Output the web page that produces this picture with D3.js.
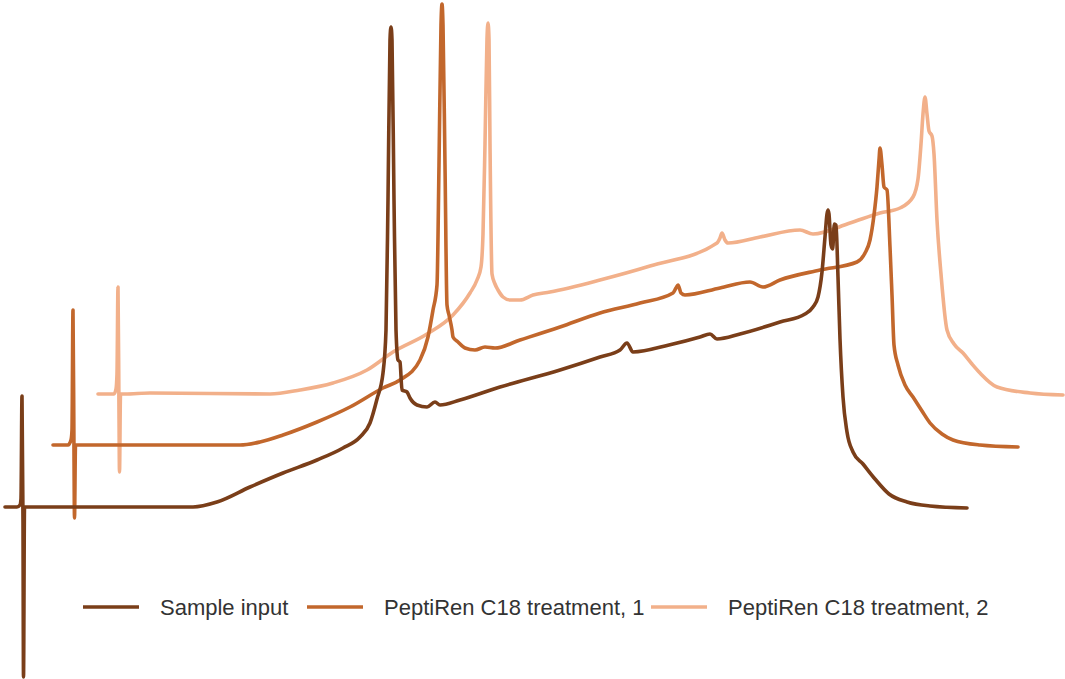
<!DOCTYPE html>
<html>
<head>
<meta charset="utf-8">
<script src="https://cdn.jsdelivr.net/npm/d3@7"></script>
<style>
  html, body { margin: 0; padding: 0; background: #ffffff; }
  svg { display: block; }
</style>
</head>
<body>
<svg id="chart" width="1065" height="679"></svg>
<script>
// ---------------- DATA ----------------
const seriesNames = ["Sample input", "PeptiRen C18 treatment, 1", "PeptiRen C18 treatment, 2"];

// retention time (min) and detector signal (mAU) for each trace
const sampleTime = [0,0.6,0.75,0.8,0.85,0.9,0.925,0.975,1.25,9.4,10.6,12.25,13.9,15.6,16.9,17.75,18.25,18.6,18.9,19.05,19.15,19.25,19.3,19.35,19.45,19.55,19.65,19.75,19.85,20.1,20.25,20.6,21.1,21.5,21.75,22.75,24.75,27.75,29.75,30.75,31.1,31.4,33.2,34.75,35.25,35.6,36.75,38.75,40.0,40.4,40.65,40.85,41.0,41.1,41.15,41.2,41.3,41.38,41.47,41.55,41.65,41.75,41.9,42.1,42.4,42.9,43.5,44.2,45.1,46.25,48.1];
const sampleSignal = [0,0,2,8,111,-15,-170,0,0,0,5,20,34,47,59,70,84,108,134,177,307,467,480,467,307,177,147,145,117,115,109,102,100,105,102,107,120,137,150,157,164,155,162,170,173,168,173,185,193,200,210,235,270,293,297,293,262,258,283,282,230,168,110,75,55,43,28,13,5,1,-1];

const t1Time = [-0.15,0.6,0.75,0.8,0.85,0.9,0.925,0.975,1.2,9.2,10.2,11.35,13.05,14.7,16.35,17.2,18.2,18.6,18.85,19.05,19.15,19.25,19.3,19.35,19.45,19.55,19.65,19.8,19.85,20.1,20.45,20.95,21.45,21.95,23.2,25.2,27.2,29.2,30.85,31.0,31.1,31.25,31.45,33.2,34.7,35.35,36.2,38.2,40.05,40.45,40.7,40.9,41.05,41.15,41.2,41.3,41.4,41.55,41.7,41.8,41.9,42.1,42.45,42.85,43.3,43.7,44.3,44.85,46.2,48.1];
const t1Signal = [0,0,5,15,135,-10,-73,0,0,0,3,10,23,38,57,65,85,108,135,160,280,420,441,420,280,140,130,115,108,103,97,95,98,97,105,118,132,142,152,157,160,152,150,157,163,158,165,175,183,192,205,230,258,285,297,280,258,255,198,150,100,80,60,48,34,22,11,5,0,-2];

const t2Time = [-0.2,0.6,0.7,0.75,0.8,0.85,0.875,0.925,1.15,2.4,8.4,9.9,11.55,13.25,14.55,16.25,17.55,18.4,18.75,18.95,19.05,19.15,19.25,19.3,19.35,19.4,19.5,19.65,19.8,20.05,20.4,20.9,21.55,22.4,24.9,27.4,30.75,30.9,31.0,31.15,31.3,32.9,34.9,35.55,37.4,38.9,39.9,40.55,40.8,40.95,41.05,41.15,41.25,41.35,41.5,41.6,41.75,41.95,42.25,42.6,43.05,43.5,43.9,44.75,46.4,48.05];
const t2Signal = [0,0,5,20,107,-20,-78,0,0,1,0,4,11,24,42,60,79,101,114,127,160,250,355,371,355,250,120,110,104,97,94,94,99,102,114,128,151,156,161,154,151,157,164,160,171,181,186,197,215,250,280,297,280,263,258,240,174,120,64,50,41,30,21,7,1,-1];

// overlay offsets (time shift in min, signal shift in mAU) per trace
const offsetTime = [0, 2.55, 4.85];
const offsetSignal = [0, 62, 113];

// ---------------- STYLE / LAYOUT ----------------
const colors = ["#7a3e19", "#c2672c", "#f2b08a"];

const svg = d3.select("#chart");

const x = d3.scaleLinear().domain([0, 48.1]).range([5, 967]);
const y = d3.scaleLinear().domain([0, 500]).range([507, 7]);

const traces = [
  sampleTime.map((t, i) => ({ t, v: sampleSignal[i] })),
  t1Time.map((t, i) => ({ t, v: t1Signal[i] })),
  t2Time.map((t, i) => ({ t, v: t2Signal[i] }))
];

const order = [2, 1, 0]; // light trace at the back
order.forEach(k => {
  const line = d3.line()
    .curve(d3.curveMonotoneX)
    .x(d => x(d.t + offsetTime[k]))
    .y(d => y(d.v + offsetSignal[k]));
  svg.append("path")
    .datum(traces[k])
    .attr("d", line)
    .attr("fill", "none")
    .attr("stroke", colors[k])
    .attr("stroke-width", 3.6)
    .attr("stroke-linejoin", "round")
    .attr("stroke-linecap", "round");
});

// ---------------- LEGEND ----------------
const legendX = [83, 307, 651];
const legendY = 607;
const legend = svg.append("g");
seriesNames.forEach((name, i) => {
  const g = legend.append("g").attr("transform", `translate(${legendX[i]},${legendY})`);
  g.append("line")
    .attr("x1", 0).attr("x2", 56)
    .attr("y1", 0).attr("y2", 0)
    .attr("stroke", colors[i])
    .attr("stroke-width", 3.4);
  g.append("text")
    .attr("x", 77)
    .attr("y", 8)
    .attr("font-family", "Liberation Sans, Arial, sans-serif")
    .attr("font-size", 22)
    .attr("fill", "#333333")
    .text(name);
});
</script>
</body>
</html>
